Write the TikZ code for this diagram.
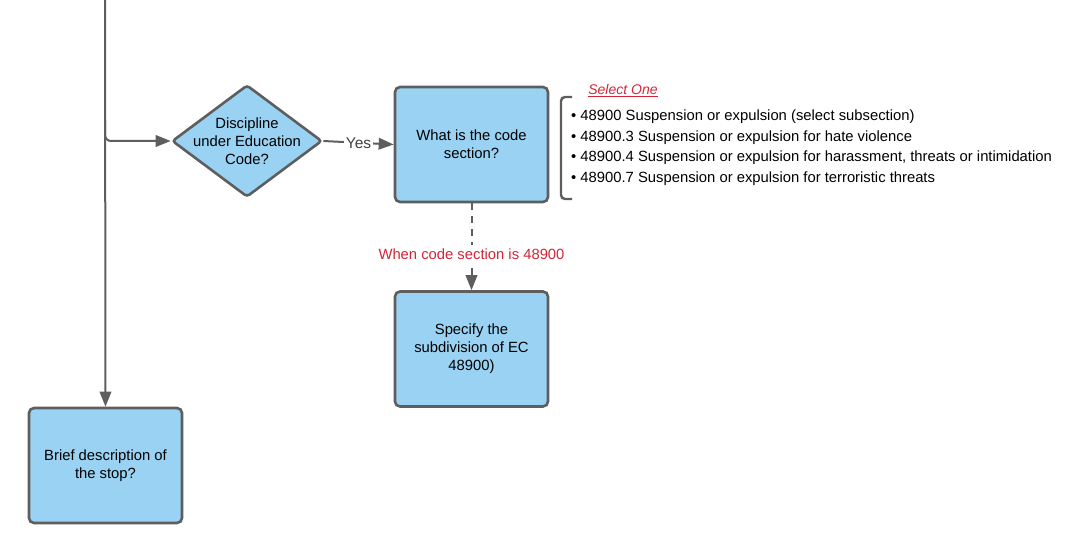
\documentclass[tikz,border=0pt]{standalone}
\usepackage{fontspec}
\setmainfont{Liberation Sans}
\usetikzlibrary{shapes.geometric,arrows.meta}
\definecolor{boxfill}{RGB}{153,210,242}
\definecolor{edge}{RGB}{94,94,94}
\definecolor{lblred}{RGB}{210,38,56}
\tikzset{
  procbox/.style={draw=edge, fill=boxfill, line width=2.6pt, rounded corners=5pt,
    minimum width=153pt, minimum height=115pt, inner sep=0pt},
  decision/.style={draw=edge, fill=boxfill, line width=2.6pt, shape=diamond, rounded corners=3pt,
    minimum width=150pt, minimum height=112pt, inner sep=0pt},
  txt/.style={align=center, font=\fontsize{14.8}{18}\selectfont, text=black},
  conn/.style={draw=edge, line width=2pt, -{Triangle[length=15pt,width=11.5pt]}},
  lbl/.style={font=\fontsize{14.8}{18}\selectfont, fill=white, inner sep=1.5pt},
}
\begin{document}
\begin{tikzpicture}[x=1pt,y=-1pt]
\useasboundingbox (0,0) rectangle (1065,559);
% nodes
\coordinate (top) at (105,0);
\coordinate (branch) at (105,120);
\node[procbox] (brief) at (105.5,465.5) {};
\node[txt] at (brief) {Brief description of\\the stop?};
\node[decision] (disc) at (247,141) {};
\node[txt] at (disc) {Discipline\\under Education\\Code?};
\node[procbox] (code) at (471.5,144.5) {};
\node[txt] at (code) {What is the code\\section?};
\node[procbox] (spec) at (471.5,349) {};
\node[txt] at (spec) {Specify the\\subdivision of EC\\48900)};
% connectors
\draw[conn] (top) -- (brief.north);
\draw[conn, rounded corners=6pt] (branch) |- (disc.west);
\draw[conn] (disc.east) -- (code.west);
\draw[conn, dash pattern=on 7pt off 6pt] (code.south) -- (spec.north);
\path (disc.east) -- node[lbl, text=edge!70!black, font=\fontsize{15.5}{18}\selectfont] (yes) {Yes} (code.west);
\path (code.south) -- node[lbl, text=lblred, pos=0.59, inner ysep=4pt] (when) {When code section is 48900} (spec.north);
% bracket and list
\coordinate (bt) at (572,97);
\coordinate (bb) at (572,199);
\draw[draw=edge, line width=2.4pt, rounded corners=4pt] (bt) -- (561,97) -- (561,199) -- (bb);
\node[anchor=west, align=left, font=\fontsize{14.8}{20.5}\selectfont, inner sep=0pt] (list) at (571,147.5)
  {• 48900 Suspension or expulsion (select subsection)\\
   • 48900.3 Suspension or expulsion for hate violence\\
   • 48900.4 Suspension or expulsion for harassment, threats or intimidation\\
   • 48900.7 Suspension or expulsion for terroristic threats};
\node[font=\fontsize{14}{16}\selectfont\itshape, text=lblred, inner sep=0pt] (sel) at (623,90.5) {\underline{Select One}};
\end{tikzpicture}
\end{document}
